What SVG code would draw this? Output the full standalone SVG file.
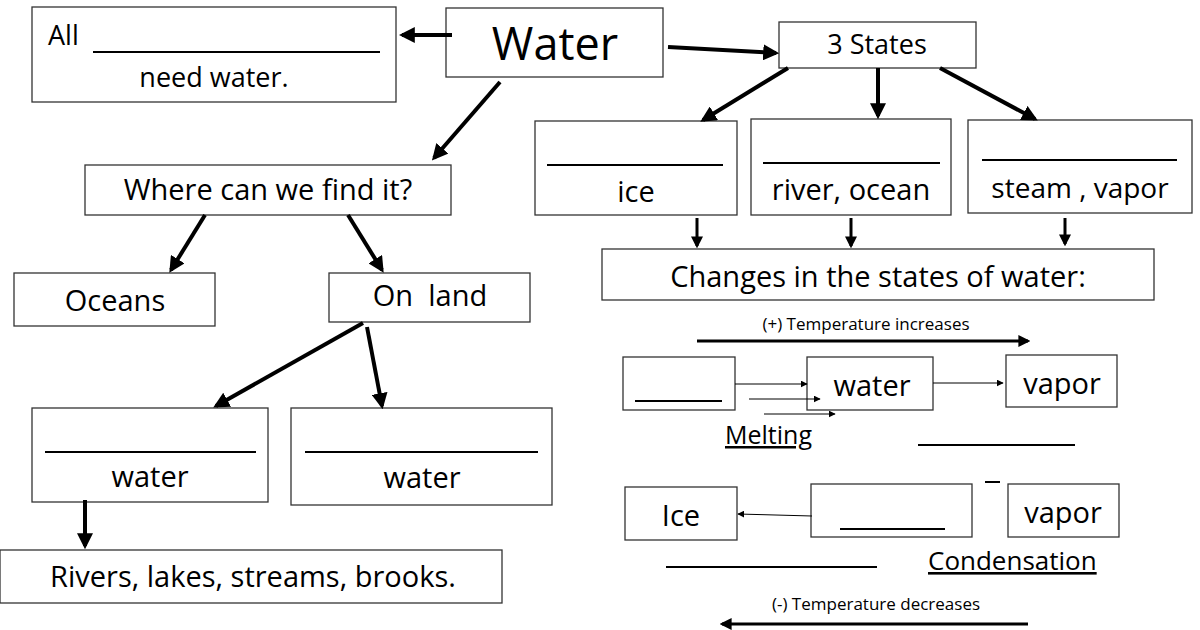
<svg xmlns="http://www.w3.org/2000/svg" width="1200" height="630" viewBox="0 0 1200 630">
<defs>
<marker id="ah" viewBox="0 0 10 10" refX="8" refY="5" markerWidth="4" markerHeight="4" orient="auto"><path d="M0,0 L10,5 L0,10 z" fill="#000"/></marker>
<marker id="at" viewBox="0 0 10 10" refX="9" refY="5" markerWidth="7" markerHeight="7" markerUnits="userSpaceOnUse" orient="auto"><path d="M0,0 L10,5 L0,10 z" fill="#000"/></marker>
</defs>
<style>
rect{fill:#fff;stroke:#333;stroke-width:1.3}
text{font-family:"Open Sans","Liberation Sans",sans-serif;fill:#000}
.m{text-anchor:middle}
.b{stroke:#000;stroke-width:2}
.k{stroke:#000;stroke-width:4;marker-end:url(#ah)}
.t{stroke:#000;stroke-width:1;marker-end:url(#at)}
.w{stroke:#000;stroke-width:3;marker-end:url(#ah)}
</style>
<rect width="1200" height="630" style="fill:#fff;stroke:none"/>
<g id="all"><rect x="32" y="7" width="364" height="95"/><text x="48" y="45" font-size="27">All</text><line class="b" x1="93" y1="52" x2="380" y2="52"/><text class="m" x="214" y="87" font-size="27">need water.</text></g>
<g id="water"><rect x="446" y="8" width="217" height="69"/><text class="m" x="555" y="60" font-size="45">Water</text></g>
<g id="states"><rect x="779" y="22" width="197" height="46"/><text class="m" x="877" y="54" font-size="27">3 States</text></g>
<g id="where"><rect x="85" y="165" width="366" height="50"/><text class="m" x="268" y="200" font-size="29">Where can we find it?</text></g>
<g id="oceans"><rect x="14" y="273" width="201" height="53"/><text class="m" x="115" y="311" font-size="29">Oceans</text></g>
<g id="onland"><rect x="329" y="273" width="201" height="49"/><text class="m" x="430" y="306" font-size="29" xml:space="preserve">On  land</text></g>
<g id="w1"><rect x="32" y="408" width="236" height="94"/><line class="b" x1="45" y1="452" x2="256" y2="452"/><text class="m" x="150" y="487" font-size="29">water</text></g>
<g id="w2"><rect x="291" y="408" width="261" height="97"/><line class="b" x1="305" y1="452" x2="538" y2="452"/><text class="m" x="422" y="488" font-size="29">water</text></g>
<g id="rivers"><rect x="0" y="550" width="502" height="53"/><text class="m" x="253" y="587" font-size="29">Rivers, lakes, streams, brooks.</text></g>
<g id="ice"><rect x="535" y="121" width="202" height="94"/><line class="b" x1="547" y1="165" x2="723" y2="165"/><text class="m" x="636" y="202" font-size="29">ice</text></g>
<g id="liquid"><rect x="751" y="119" width="200" height="96"/><line class="b" x1="763" y1="163" x2="940" y2="163"/><text class="m" x="851" y="200" font-size="29">river, ocean</text></g>
<g id="gas"><rect x="968" y="120" width="224" height="93"/><line class="b" x1="982" y1="160" x2="1177" y2="160"/><text class="m" x="1080" y="198" font-size="28">steam , vapor</text></g>
<g id="changes"><rect x="602" y="249" width="552" height="51"/><text class="m" x="878" y="287" font-size="29">Changes in the states of water:</text></g>
<g id="inc"><text class="m" x="866" y="330" font-size="17">(+) Temperature increases</text></g>
<g id="r1a"><rect x="623" y="357" width="112" height="53"/><line class="b" x1="635" y1="401" x2="722" y2="401"/></g>
<g id="r1b"><rect x="807" y="357" width="126" height="53"/><text class="m" x="872" y="396" font-size="29">water</text></g>
<g id="r1c"><rect x="1006" y="355" width="111" height="52"/><text class="m" x="1062" y="394" font-size="29">vapor</text></g>
<g id="melting"><text x="725" y="444" font-size="25" text-decoration="underline">Melting</text><line class="b" x1="918" y1="445" x2="1075" y2="445"/></g>
<g id="r2a"><rect x="625" y="487" width="112" height="53"/><text class="m" x="681" y="526" font-size="29">Ice</text></g>
<g id="r2b"><rect x="811" y="484" width="161" height="53"/><line class="b" x1="840" y1="529" x2="945" y2="529"/></g>
<g id="r2c"><rect x="1008" y="484" width="111" height="53"/><text class="m" x="1063" y="523" font-size="29">vapor</text><line class="b" x1="985" y1="482" x2="1000" y2="482"/></g>
<g id="cond"><line class="b" x1="666" y1="567" x2="877" y2="567"/><text x="928" y="570" font-size="26" text-decoration="underline">Condensation</text></g>
<g id="dec"><text class="m" x="876" y="610" font-size="17">(-) Temperature decreases</text></g>
<g id="connectors">
<line class="k" x1="452" y1="35" x2="402" y2="35"/>
<line class="k" x1="668" y1="47" x2="776" y2="53"/>
<line class="k" x1="500" y1="82" x2="434" y2="158"/>
<line class="k" x1="205" y1="215" x2="171" y2="270"/>
<line class="k" x1="348" y1="215" x2="382" y2="270"/>
<line class="k" x1="363" y1="323" x2="216" y2="406"/>
<line class="k" x1="367" y1="327" x2="382" y2="406"/>
<line class="k" x1="85" y1="500" x2="85" y2="546"/>
<line class="k" x1="788" y1="68" x2="703" y2="120"/>
<line class="k" x1="878" y1="68" x2="878" y2="116"/>
<line class="k" x1="940" y1="68" x2="1035" y2="119"/>
<line class="w" x1="697" y1="218" x2="697" y2="246"/>
<line class="w" x1="851" y1="218" x2="851" y2="246"/>
<line class="w" x1="1065" y1="218" x2="1065" y2="244"/>
<line class="w" x1="697" y1="341" x2="1028" y2="341"/>
<line class="w" x1="1028" y1="624" x2="722" y2="624"/>
<line class="t" x1="735" y1="384" x2="807" y2="384"/>
<line class="t" x1="749" y1="399" x2="820" y2="399"/>
<line class="t" x1="764" y1="414" x2="835" y2="414"/>
<line class="t" x1="933" y1="383" x2="1003" y2="383"/>
<line class="t" x1="812" y1="516" x2="738" y2="514"/>
</g>
</svg>
